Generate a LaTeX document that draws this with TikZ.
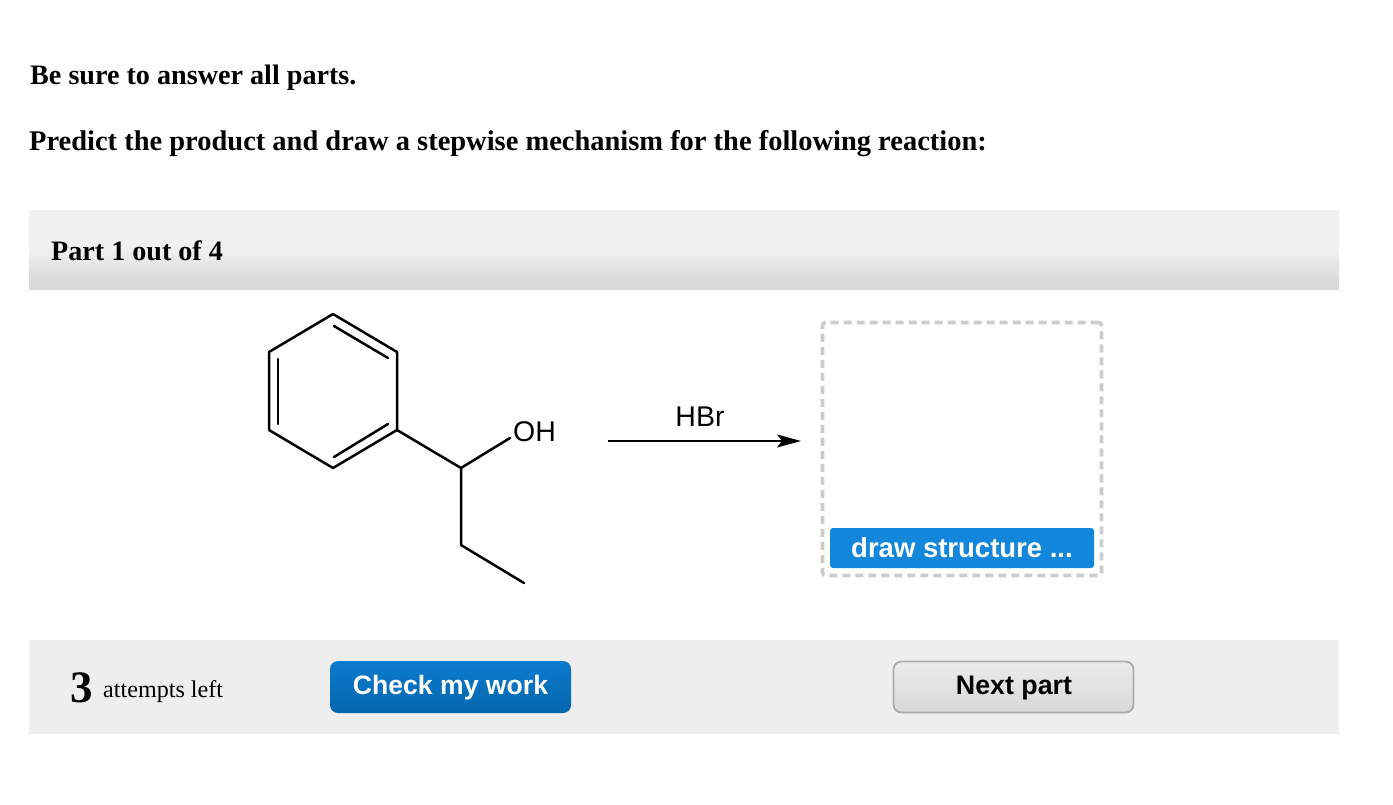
\documentclass[tikz,border=0pt]{standalone}
\usepackage{fontspec}
\setmainfont{Liberation Serif}
\setsansfont{Liberation Sans}
\usetikzlibrary{arrows.meta}
\definecolor{panelA}{HTML}{F0F0F0}
\definecolor{panelB}{HTML}{DADADA}
\definecolor{panelC}{HTML}{EEEEEE}
\definecolor{dashc}{HTML}{CCCCCC}
\definecolor{drawb}{HTML}{1287DB}
\definecolor{checkA}{HTML}{0B7BCE}
\definecolor{checkB}{HTML}{0566AC}
\definecolor{nextA}{HTML}{EBEBEB}
\definecolor{nextB}{HTML}{D8D8D8}
\definecolor{nextE}{HTML}{ABABAB}
\tikzset{
  x=1pt,y=-1pt,
  heading/.style={anchor=base west,inner sep=0pt},
  bond/.style={draw=black,line width=2.5pt,line cap=round,line join=round},
  chem/.style={inner sep=0pt,font=\sffamily\fontsize{28.5}{32}\selectfont},
  btntext/.style={inner sep=0pt,anchor=base},
}
\begin{document}
\begin{tikzpicture}
\useasboundingbox (0,0) rectangle (1393,804);
\fill[white] (0,0) rectangle (1393,804);
% texts
\node[heading,font=\fontsize{28.15}{30}\selectfont\bfseries] (t1) at (30,84) {Be sure to answer all parts.};
\node[heading,font=\fontsize{28.47}{30}\selectfont\bfseries] (t2) at (29,150) {Predict the product and draw a stepwise mechanism for the following reaction:};
% header panel
\fill[panelA] (29,210) rectangle (1339,250);
\shade[top color=panelA,bottom color=panelB] (29,249.5) rectangle (1339,280);
\fill[panelB] (29,279.5) rectangle (1339,290);
\node[heading,font=\fontsize{28.1}{30}\selectfont\bfseries] (part) at (51,260) {Part 1 out of 4};
% molecule
\coordinate (a1) at (333,314);
\coordinate (a2) at (397,352);
\coordinate (a3) at (397,430);
\coordinate (a4) at (333,468);
\coordinate (a5) at (269,430);
\coordinate (a6) at (269,352);
\coordinate (c1) at (461,468);
\coordinate (c2) at (461,545);
\coordinate (c3) at (524,583);
\coordinate (i1) at (334,326);
\coordinate (i2) at (388,358);
\coordinate (i3) at (278,359);
\coordinate (i4) at (278,424);
\coordinate (i5) at (334,457);
\coordinate (i6) at (388,424);
\node[chem,anchor=base west] (oh) at (513,441) {OH};
\coordinate (ohb) at (510,438);
\draw[bond] (a1) -- (a2) -- (a3) -- (a4) -- (a5) -- (a6) -- cycle;
\draw[bond] (i1) -- (i2);
\draw[bond] (i3) -- (i4);
\draw[bond] (i5) -- (i6);
\draw[bond] (a3) -- (c1) -- (c2) -- (c3);
\draw[bond] (c1) -- (ohb);
% arrow
\coordinate (ar1) at (608,441);
\coordinate (ar2) at (801,441);
\draw[line width=1.9pt,-{Stealth[length=24pt,width=13pt,inset=5pt]}] (ar1) -- (ar2);
\node[chem,anchor=base] (hbr) at (700,426) {HBr};
% answer box
\node[draw=dashc,line width=3.8pt,dash pattern=on 8pt off 5pt,rounded corners=3pt,inner sep=0pt,outer sep=0pt,anchor=north west,minimum width=279pt,minimum height=253pt] (box) at (822.5,322.5) {};
\node[fill=drawb,rounded corners=3pt,inner sep=0pt,outer sep=0pt,anchor=north west,minimum width=264pt,minimum height=40pt] (drawbtn) at (830,528) {};
\node[btntext,text=white,font=\sffamily\bfseries\fontsize{27.5}{32}\selectfont] (drawtxt) at (962,557) {draw structure ...};
% bottom panel
\fill[panelC] (29,640) rectangle (1339,734);
\node[inner sep=0pt,anchor=base west,font=\fontsize{45}{48}\selectfont\bfseries] (num) at (70,702) {3};
\node[inner sep=0pt,anchor=base west,font=\fontsize{24.1}{28}\selectfont] (att) at (103,697) {attempts left};
\shade[top color=checkA,bottom color=checkB,rounded corners=8pt] (330,661) rectangle (571,713);
\node[btntext,text=white,font=\sffamily\bfseries\fontsize{26.6}{32}\selectfont] (chk) at (450.5,694) {Check my work};
\shade[top color=nextA,bottom color=nextB,rounded corners=8pt] (893,661) rectangle (1134,713);
\draw[nextE,line width=1.8pt,rounded corners=8pt] (893.5,661.5) rectangle (1133.5,712.5);
\node[btntext,text=black,font=\sffamily\bfseries\fontsize{26.8}{32}\selectfont] (nxt) at (1014,694) {Next part};
\end{tikzpicture}
\end{document}
